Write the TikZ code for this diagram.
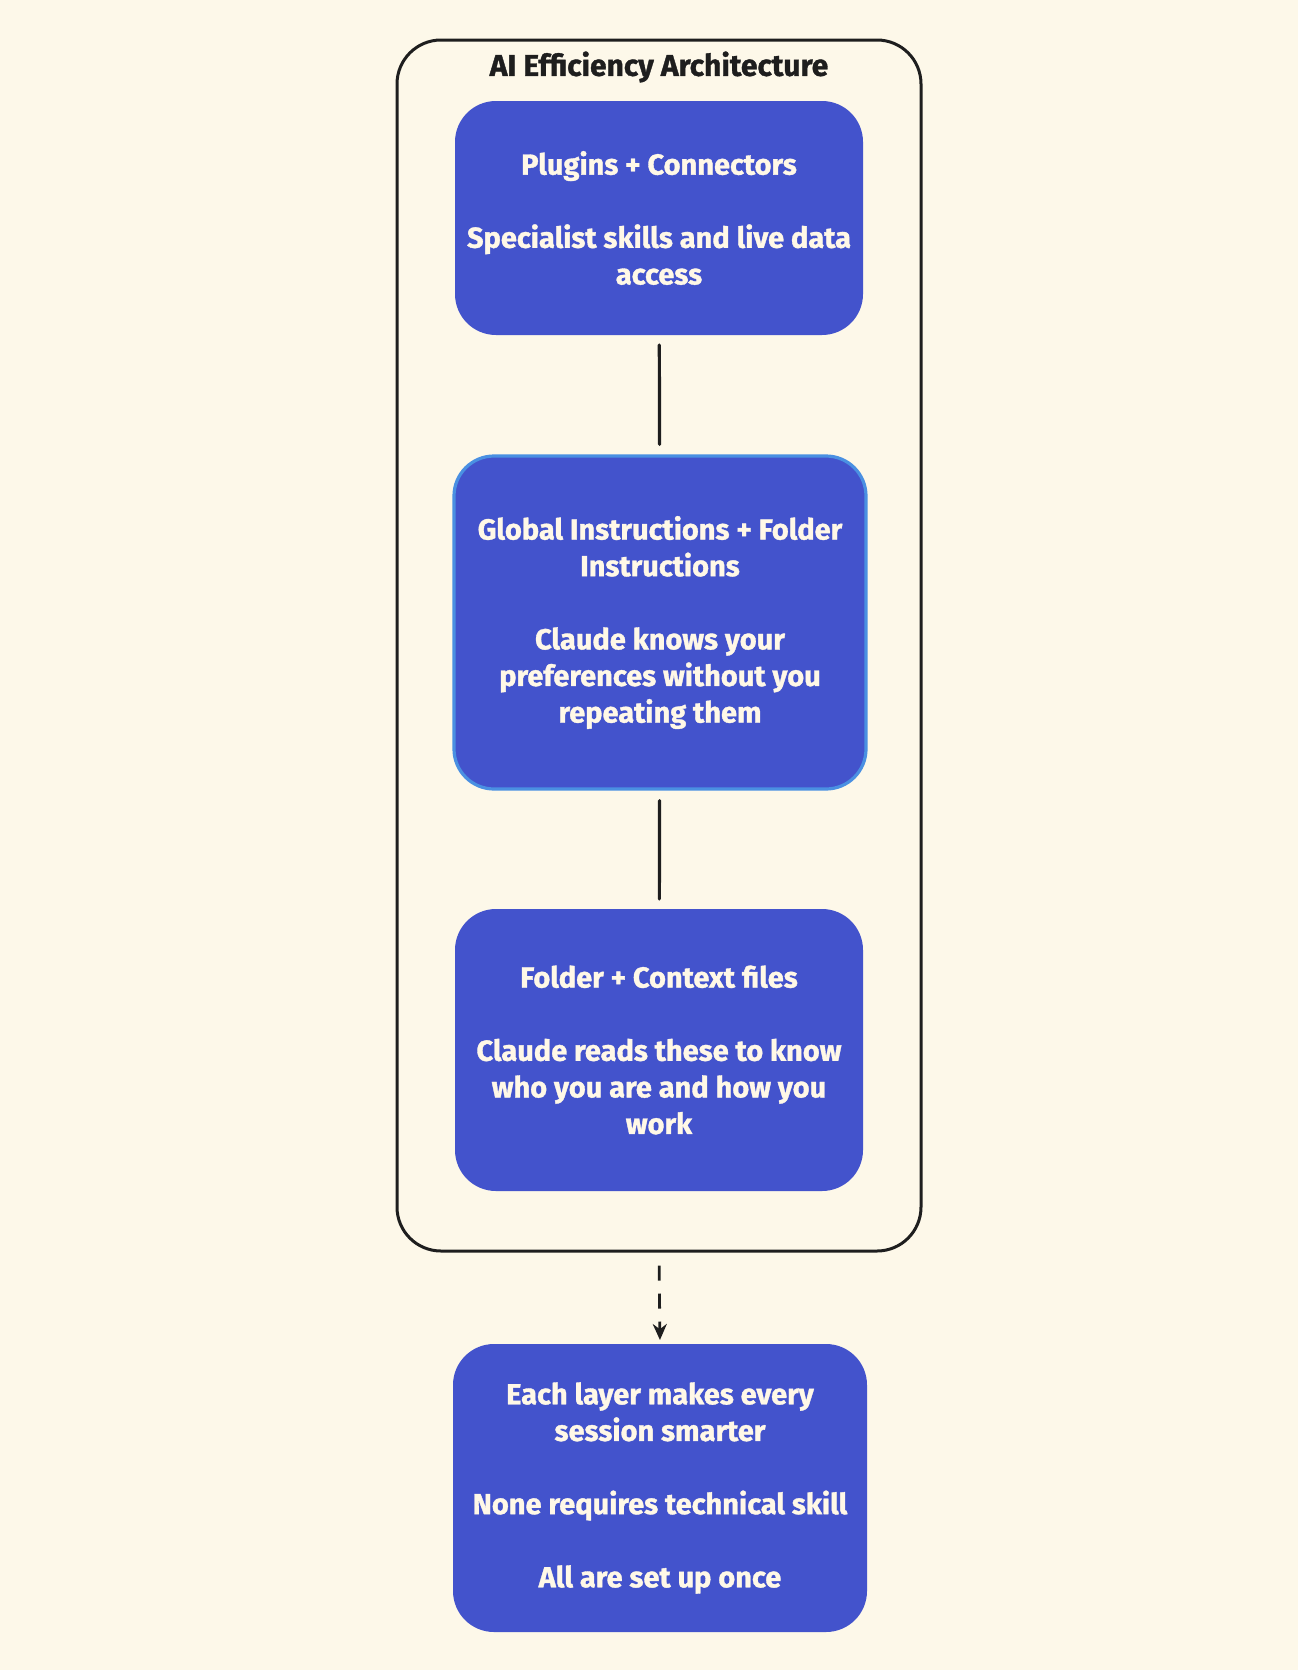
\documentclass[tikz,border=0pt]{standalone}
\usepackage{fontspec}
\setmainfont{Fira Sans}[FakeStretch=1.0, BoldFeatures={FakeBold=1.2}]
\usetikzlibrary{arrows.meta}
\definecolor{bg}{HTML}{FDF8E9}
\definecolor{boxfill}{HTML}{4353CC}
\definecolor{boxtext}{HTML}{FFF8E7}
\definecolor{ink}{HTML}{1E1E1E}
\definecolor{edgeblue}{HTML}{4A90E2}
\begin{document}
\begin{tikzpicture}[x=0.5pt,y=-0.5pt,
  layer/.style={draw=boxfill, line width=1pt, fill=boxfill, rounded corners=20pt, text=boxtext, align=center,
    font=\fontsize{14.5pt}{18.3pt}\selectfont\bfseries, inner sep=0pt},
  hilite/.style={draw=edgeblue, line width=1.6pt},
  container/.style={draw=ink, line width=1.5pt, rounded corners=22pt, inner sep=0pt},
  titletext/.style={text=ink, font=\fontsize{15pt}{18pt}\selectfont\bfseries, inner sep=0pt},
  conn/.style={draw=ink, line width=1.6pt, line cap=round, shorten <=5pt, shorten >=5pt},
  dasharrow/.style={draw=ink, line width=1.4pt, dash pattern=on 7.5pt off 6.5pt, shorten <=6.5pt, shorten >=2pt,
    -{Stealth[length=8pt,width=7pt]}}
]
\fill[bg] (0,0) rectangle (1298,1670);
\useasboundingbox (0,0) rectangle (1298,1670);

\node[container, minimum width=262pt, minimum height=605.5pt] (arch) at (659,645.5) {};
\node[titletext] (title) at (659,67) {AI Efficiency Architecture};

\node[layer, minimum width=203pt, minimum height=116pt] (b1) at (659,218)
  {Plugins + Connectors\\[18.3pt]Specialist skills and live data\\access};
\node[layer, hilite, minimum width=206pt, minimum height=166.5pt] (b2) at (660,622.5)
  {Global Instructions + Folder\\Instructions\\[18.3pt]Claude knows your\\preferences without you\\repeating them};
\node[layer, minimum width=203pt, minimum height=140pt] (b3) at (659,1050)
  {Folder + Context files\\[18.3pt]Claude reads these to know\\who you are and how you\\work};
\node[layer, minimum width=206pt, minimum height=143pt] (b4) at (660,1488)
  {Each layer makes every\\session smarter\\[18.3pt]None requires technical skill\\[18.3pt]All are set up once};

\draw[conn] (b1) -- (b2);
\draw[conn] (b2) -- (b3);
\draw[dasharrow] (arch.south) -- (b4.north);
\end{tikzpicture}
\end{document}
